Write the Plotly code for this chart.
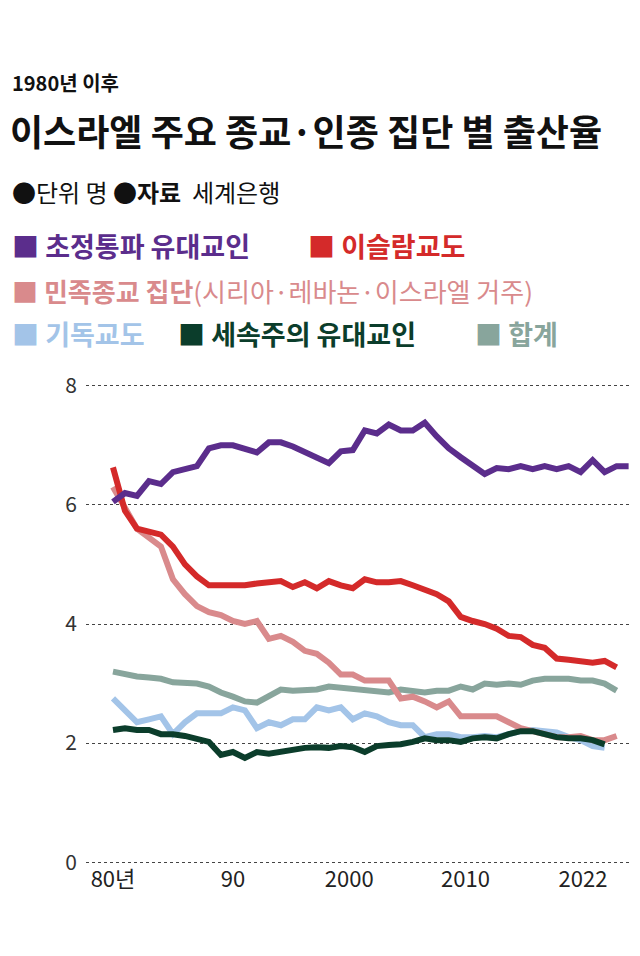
import plotly.graph_objects as go

years = list(range(1980, 2024))
ultra = [6.05,6.2,6.15,6.4,6.35,6.55,6.6,6.65,6.95,7.0,7.0,6.95,6.88,7.05,7.05,6.98,6.88,6.78,6.7,6.9,6.92,7.25,7.2,7.35,7.25,7.25,7.38,7.15,6.95,6.8,6.65,6.52,6.62,6.6,6.65,6.6,6.65,6.6,6.65,6.55,6.75,6.55,6.65,6.65]
muslim = [6.63,5.9,5.6,5.55,5.5,5.3,5.0,4.8,4.65,4.65,4.65,4.65,4.68,4.7,4.72,4.62,4.7,4.6,4.72,4.65,4.6,4.75,4.7,4.7,4.72,4.65,4.58,4.5,4.38,4.12,4.05,4.0,3.92,3.8,3.78,3.65,3.6,3.42,3.4,3.38,3.35,3.38,3.27]
druze = [6.3,5.95,5.6,5.45,5.3,4.75,4.5,4.3,4.2,4.15,4.05,4.0,4.05,3.75,3.8,3.7,3.55,3.5,3.35,3.15,3.15,3.05,3.05,3.05,2.75,2.78,2.7,2.6,2.7,2.45,2.45,2.45,2.45,2.35,2.25,2.2,2.15,2.1,2.1,2.12,2.05,2.05,2.12]
christian = [2.75,2.55,2.35,2.4,2.45,2.15,2.35,2.5,2.5,2.5,2.6,2.55,2.25,2.35,2.3,2.4,2.4,2.6,2.55,2.6,2.4,2.5,2.45,2.35,2.3,2.3,2.1,2.15,2.15,2.1,2.1,2.12,2.1,2.15,2.2,2.22,2.2,2.18,2.1,2.05,1.95,1.92]
secular = [2.22,2.25,2.22,2.22,2.15,2.15,2.12,2.08,2.02,1.8,1.85,1.75,1.85,1.82,1.85,1.9,1.92,1.93,1.92,1.95,1.93,1.85,1.95,1.97,1.98,2.02,2.08,2.05,2.05,2.02,2.08,2.1,2.08,2.15,2.2,2.2,2.15,2.1,2.08,2.08,2.05,1.98]
total = [3.2,3.15,3.12,3.1,3.08,3.02,3.0,3.0,2.95,2.85,2.78,2.7,2.68,2.8,2.9,2.88,2.88,2.9,2.95,2.93,2.9,2.88,2.85,2.85,2.9,2.88,2.85,2.88,2.88,2.95,2.9,3.0,2.98,3.0,2.98,3.05,3.08,3.08,3.08,3.05,3.05,3.0,2.88]

tick_vals = [1980, 1990, 1999.7, 2009.4, 2019.2]
tick_text = ["80년", "90", "2000", "2010", "2022"]

C = dict(ultra="#5b2d8c", muslim="#d42a2a", druze="#d98a8c", christ="#a3c4e8", secular="#0b3d2b", total="#88a59c")

fig = go.Figure()
for vals, col in [(total, C["total"]), (christian, C["christ"]), (druze, C["druze"]),
                  (secular, C["secular"]), (muslim, C["muslim"]), (ultra, C["ultra"])]:
    fig.add_trace(go.Scatter(x=years[:len(vals)], y=vals, mode="lines",
                             line=dict(color=col, width=6), hoverinfo="skip"))

F = "Noto Sans CJK KR"
T, B = 376, 100
fig.update_layout(
    width=640, height=956, paper_bgcolor="white", plot_bgcolor="white",
    margin=dict(l=78, r=5, t=T, b=B), showlegend=False,
    font=dict(family=F, color="#222"),
    xaxis=dict(range=[1977.75, 2024.2], tickvals=tick_vals, ticktext=tick_text,
               showgrid=False, zeroline=False, showline=False, ticks="",
               tickfont=dict(size=22, color="#222")),
    yaxis=dict(range=[-0.03, 8.03], tickvals=[0, 2, 4, 6, 8], showgrid=True,
               gridcolor="#444", griddash="dot", gridwidth=1, zeroline=False,
               ticks="", ticklabelstandoff=8, tickfont=dict(size=21, color="#333")),
)

def ann(x, y, text, size, color="#111", bold=False):
    fig.add_annotation(x=x, y=y, xref="paper", yref="paper", xanchor="left", yanchor="middle",
                       showarrow=False, text=(f"<b>{text}</b>" if bold else text),
                       font=dict(size=size, color=color, family=F))

def py(p):
    return (956 - B - p) / (956 - T - B)

def px(p):
    return (p - 78) / (640 - 78 - 5)

ann(px(2), py(75), "1980년 이후", 20, bold=True)
ann(px(0), py(122), "이스라엘 주요 종교·인종 집단 별 출산율", 36, bold=True)
ann(px(2), py(183), "●단위 명 ●<b>자료</b>  세계은행", 24)
ann(px(2), py(238), "■ 초정통파 유대교인", 27, C["ultra"], True)
ann(px(298), py(238), "■ 이슬람교도", 27, C["muslim"], True)
ann(px(2), py(283), "<b>■ 민족종교 집단</b>(시리아·레바논·이스라엘 거주)", 26, C["druze"])
ann(px(2), py(326), "■ 기독교도", 27, C["christ"], True)
ann(px(168), py(326), "■ 세속주의 유대교인", 27, C["secular"], True)
ann(px(465), py(326), "■ 합계", 27, C["total"], True)

fig.write_html("out.html")
